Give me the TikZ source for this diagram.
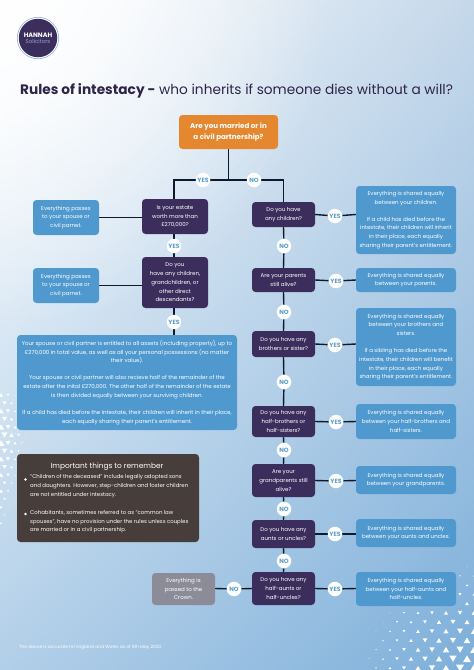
\documentclass[tikz,border=0pt]{standalone}
\usepackage{fontspec}
\setmainfont{Poppins}
\usetikzlibrary{calc,shadings,fadings}
\pgfdeclarelayer{bgimg}
\pgfdeclarelayer{conn}
\pgfsetlayers{bgimg,conn,main}
\definecolor{cblue}{HTML}{4F99CF}
\definecolor{cpurple}{HTML}{3C2E5C}
\definecolor{corange}{HTML}{E5872F}
\definecolor{cgrey}{HTML}{8C8C98}
\definecolor{cbrown}{HTML}{473D3B}
\definecolor{cline}{HTML}{0E1A2B}
\definecolor{ctitle}{HTML}{2E2448}
\definecolor{clab}{HTML}{5C9FCC}
\definecolor{bgtr}{HTML}{C5D8EA}
\definecolor{bgbl}{HTML}{B2CFE8}
\definecolor{bgbr}{HTML}{7DAFDA}
\tikzfading[name=whitefade,inner color=transparent!0,outer color=transparent!100]
\tikzset{
  box/.style={rectangle,rounded corners=3.5pt,inner sep=0pt,text=white,align=center,font=\fontsize{5.5}{8.7}\selectfont},
  ansbox/.style={box,fill=cblue},
  qbox/.style={box,fill=cpurple},
  lab/.style={circle,fill=white,inner sep=0pt,minimum size=14.5pt,text=clab,font=\fontsize{6.1}{6}\selectfont\bfseries},
  conn/.style={draw=cline,line width=1.4pt},
  notetext/.style={anchor=north west,inner sep=0pt,text=white,align=left,font=\fontsize{5.4}{8.7}\selectfont},
}
\newcommand{\bx}[7]{% name,style,x1,y1,x2,y2,text
  \node[#2,minimum width=#5pt-#3pt,minimum height=#6pt-#4pt] (#1) at ({(#3+#5)/2},{(#4+#6)/2}) {#7};}
\begin{document}
\begin{tikzpicture}[x=1pt,y=-1pt]
\useasboundingbox (0,0) rectangle (474,670);
\begin{pgfonlayer}{bgimg}
\shade[upper left=white,upper right=bgtr,lower left=bgbl,lower right=bgbr] (0,0) rectangle (474,670);
\begin{scope}
\clip (0,0) rectangle (474,670);
\fill[white,path fading=whitefade] (0,0) circle (330pt);
% triangles, bottom right
\foreach \r in {0,...,13}{
  \foreach \c in {0,...,16}{
    \pgfmathsetmacro{\cx}{474-\c*14+mod(\r,2)*7}
    \pgfmathsetmacro{\cy}{668-\r*9.2}
    \pgfmathsetmacro{\s}{max(0,5-0.04*veclen(\cx-480,\cy-680))}
    \pgfmathsetmacro{\upd}{mod(\r+\c,2)==0?1:-1}
    \ifdim\s pt>0.4pt
      \fill[white] (\cx-\s,\cy+\upd*\s*0.85) -- (\cx+\s,\cy+\upd*\s*0.85) -- (\cx,\cy-\upd*\s*0.85) -- cycle;
    \fi
  }
}
% triangles, left side
\foreach \r in {0,...,17}{
  \foreach \c in {0,...,3}{
    \pgfmathsetmacro{\cx}{1+\c*7+mod(\r,2)*3.5}
    \pgfmathsetmacro{\cy}{395+\r*8}
    \pgfmathsetmacro{\s}{max(0,3.6-0.12*\cx-0.03*abs(\cy-438))}
    \pgfmathsetmacro{\upd}{mod(\r+\c,2)==0?1:-1}
    \ifdim\s pt>0.4pt
      \fill[white] (\cx-\s,\cy+\upd*\s*0.85) -- (\cx+\s,\cy+\upd*\s*0.85) -- (\cx,\cy-\upd*\s*0.85) -- cycle;
    \fi
  }
}
\end{scope}
\end{pgfonlayer}
% logo
\node[circle,draw={rgb,255:red,143;green,176;blue,216},line width=.6pt,fill=white,minimum size=41.5pt,inner sep=0pt] (logoring) at (38,38) {};
\node[circle,fill=cpurple,minimum size=38.5pt,inner sep=0pt,align=center,text=white,font=\fontsize{5.5}{6.6}\selectfont] (logo) at (38,38) {\textbf{\fontsize{6.4}{6.6}\selectfont HANNAH}\\[-0.3pt]\textcolor[HTML]{8FA6D6}{Solicitors}};
% title
\node[anchor=base west,inner sep=0pt,text=ctitle,font=\fontsize{13.7}{16}\selectfont] (title) at (20,94) {\textbf{Rules of intestacy -} who inherits if someone dies without a will?};
% start
\bx{start}{box,fill=corange,font=\fontsize{7.1}{10.4}\selectfont\bfseries}{179}{115}{278}{149}{Are you married or in\\a civil partnership?}
% left column
\bx{q1}{qbox}{142}{199}{208}{234}{Is your estate\\worth more than\\£270,000?}
\bx{a1}{ansbox}{33}{200}{99}{235}{Everything passes\\to your spouse or\\civil parnet.}
\bx{q2}{qbox}{142}{257}{208}{308}{Do you\\have any children,\\grandchildren, or\\other direct\\descendants?}
\bx{a2}{ansbox}{33}{268}{99}{303}{Everything passes\\to your spouse or\\civil parnet.}
\bx{big}{ansbox}{17}{335}{237}{430}{Your spouse or civil partner is entitled to all assets (including property), up to\\£270,000 in total value, as well as all your personal possessions (no matter\\their value).\\[8.5pt]Your spouse or civil partner will also recieve half of the remainder of the\\estate after the inital £270,000. The other half of the remainder of the estate\\is then divided equally between your surviving children.\\[8.5pt]If a child has died before the intestate, their children will inherit in their place,\\each equally sharing their parent's entitlement.}
% right column
\bx{r1}{qbox}{252}{202}{315}{227}{Do you have\\any children?}
\bx{s1}{ansbox}{356}{186}{456}{254}{Everything is shared equally\\between your children.\\[8.5pt]If a child has died before the\\intestate, their children will inherit\\in their place, each equally\\sharing their parent's entitlement.}
\bx{r2}{qbox}{252}{268}{315}{292}{Are your parents\\still alive?}
\bx{s2}{ansbox}{356}{268}{456}{292}{Everything is shared equally\\between your parents.}
\bx{r3}{qbox}{252}{331}{315}{357}{Do you have any\\brothers or sister?}
\bx{s3}{ansbox}{356}{308}{456}{386}{Everything is shared equally\\between your brothers and\\sisters.\\[8.5pt]If a sibling has died before the\\intestate, their children will benefit\\in their place, each equally\\sharing their parent's entitlement.}
\bx{r4}{qbox}{252}{406}{315}{437}{Do you have any\\half-brothers or\\half-sisters?}
\bx{s4}{ansbox}{356}{404}{456}{439}{Everything is shared equally\\between your half-brothers and\\half-sisters.}
\bx{r5}{qbox}{252}{464}{315}{497}{Are your\\grandparents still\\alive?}
\bx{s5}{ansbox}{356}{466}{456}{494}{Everything is shared equally\\between your grandparents.}
\bx{r6}{qbox}{252}{520}{315}{548}{Do you have any\\aunts or uncles?}
\bx{s6}{ansbox}{356}{519}{456}{547}{Everything is shared equally\\between your aunts and uncles.}
\bx{r7}{qbox}{252}{572}{315}{605}{Do you have any\\half-aunts or\\half-uncles?}
\bx{s7}{ansbox}{356}{572}{456}{606}{Everything is shared equally\\between your half-aunts and\\half-uncles.}
\bx{crown}{box,fill=cgrey}{152}{573}{215}{605}{Everything is\\passed to the\\Crown.}
% notes
\bx{notes}{box,fill=cbrown}{17}{454}{199}{542}{}
\node[anchor=base,inner sep=0pt,text=white,font=\fontsize{7.4}{9}\selectfont] (nhead) at (107,468) {Important things to remember};
\node[notetext] (n1) at (30,474.5) {“Children of the deceased” include legally adopted sons\\and daughters. However, step-children and foster children\\are not entitled under intestacy.};
\node[notetext] (n2) at (30,510) {Cohabitants, sometimes referred to as “common law\\spouses”, have no provision under the rules unless couples\\are married or in a civil partnership.};
\fill[white] (25.5,479.5) circle (1.3pt) (25.5,514) circle (1.3pt);
% footer
\node[anchor=west,inner sep=0pt,text=white,font=\fontsize{4.4}{5}\selectfont] (foot) at (19,647) {The above is accurate for England and Wales as of 5th May 2020};
% labels
\node[lab] (ly0) at (203,180) {YES};
\node[lab] (ln0) at (254,180) {NO};
\node[lab] (ly1) at (174,246) {YES};
\node[lab] (ly2) at (174,322) {YES};
\node[lab] (yr1) at (335,216) {YES};
\node[lab] (yr2) at (336,281) {YES};
\node[lab] (yr3) at (335,345) {YES};
\node[lab] (yr4) at (336,422) {YES};
\node[lab] (yr5) at (336,481) {YES};
\node[lab] (yr6) at (335,534) {YES};
\node[lab] (yr7) at (335,589) {YES};
\node[lab] (nr1) at (284,246) {NO};
\node[lab] (nr2) at (284,312) {NO};
\node[lab] (nr3) at (284,382) {NO};
\node[lab] (nr4) at (284,450) {NO};
\node[lab] (nr5) at (284,509) {NO};
\node[lab] (nr6) at (284,561) {NO};
\node[lab] (nr7) at (234,589) {NO};
\coordinate (split) at (start.south |- ly0);
\begin{pgfonlayer}{conn}
\draw[conn] (start.south) -- (split);
\draw[conn] (q1.north -| ly1) |- (ly0) -- (split) -- (ln0) -| (r1.north);
\draw[conn] (a1.east) -- (a1.east -| q1.west);
\draw[conn] (a2.east) -- (a2.east -| q2.west);
\draw[conn] (q1.south -| ly1) -- (ly1) -- (q2.north -| ly1);
\draw[conn] (q2.south -| ly2) -- (ly2) -- (big.north -| ly2);
\foreach \a/\l/\b in {r1/nr1/r2,r2/nr2/r3,r3/nr3/r4,r4/nr4/r5,r5/nr5/r6,r6/nr6/r7}{
  \draw[conn] (\a.south) -- (\l) -- (\b.north);
}
\foreach \i in {1,...,7}{
  \draw[conn] (r\i.east) -- (yr\i) -- (s\i.west |- r\i);
}
\draw[conn] (r7.west) -- (nr7) -- (crown.east |- r7);
\end{pgfonlayer}
\end{tikzpicture}
\end{document}
